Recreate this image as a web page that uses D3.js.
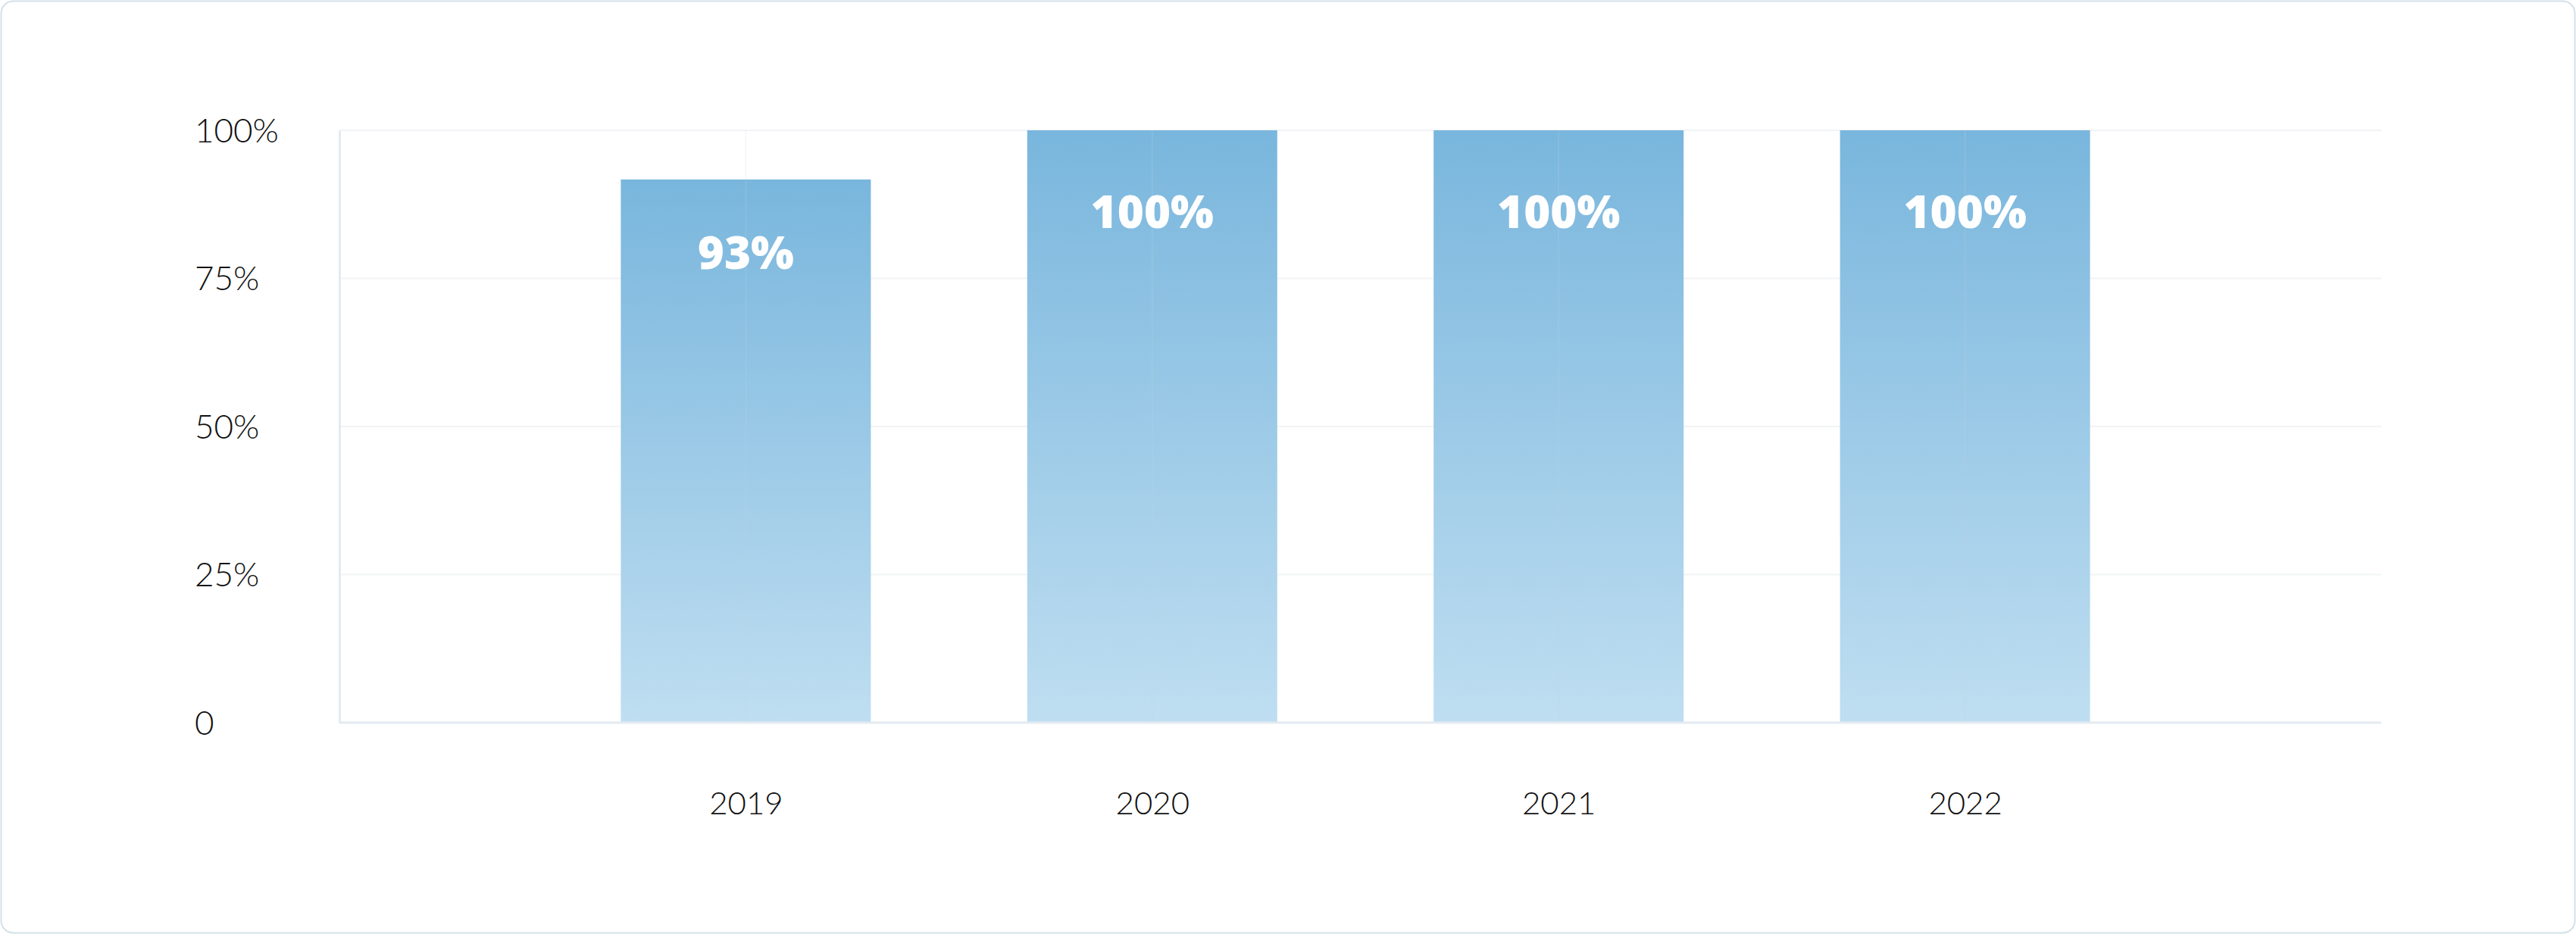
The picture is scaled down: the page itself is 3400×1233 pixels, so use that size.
<!DOCTYPE html>
<html>
<head>
<meta charset="utf-8">
<script src="https://cdn.jsdelivr.net/npm/d3@7"></script>
<style>
  html, body { margin: 0; padding: 0; background: #ffffff; }
  svg { display: block; }
</style>
</head>
<body>
<script>
// ---- data ----
const categories = ["2019", "2020", "2021", "2022"];
const barValues = [91.7, 100, 100, 100];      // bar heights as drawn (%)
const labelValues = [93, 100, 100, 100];      // value labels shown on bars (%)
const yTicks = [0, 25, 50, 75, 100];
const yTickLabels = ["0", "25%", "50%", "75%", "100%"];

// ---- layout ----
const W = 3400, H = 1233;
const plot = { left: 448, right: 3143, top: 172, bottom: 954 };
const barWidth = 330;

const svg = d3.select("body").append("svg").attr("width", W).attr("height", H);

// card
svg.append("rect")
  .attr("x", 1.5).attr("y", 1.5)
  .attr("width", W - 3).attr("height", H - 3)
  .attr("rx", 16).attr("ry", 16)
  .attr("fill", "#ffffff")
  .attr("stroke", "#d3e2e8").attr("stroke-width", 2);

const defs = svg.append("defs");
const grad = defs.append("linearGradient")
  .attr("id", "barGrad").attr("x1", 0).attr("y1", 0).attr("x2", 0).attr("y2", 1);
grad.append("stop").attr("offset", "0%").attr("stop-color", "#79b6dd");
grad.append("stop").attr("offset", "100%").attr("stop-color", "#bfdef1");

const x = d3.scalePoint().domain(categories).range([plot.left, 3130]).padding(1);
const y = d3.scaleLinear().domain([0, 100]).range([plot.bottom, plot.top]);

// horizontal grid
svg.append("g")
  .selectAll("line").data(yTicks.filter(d => d > 0)).join("line")
  .attr("x1", plot.left).attr("x2", plot.right)
  .attr("y1", d => y(d)).attr("y2", d => y(d))
  .attr("stroke", "#f1f3f5").attr("stroke-width", 2);

// bars
svg.append("g")
  .selectAll("rect").data(categories).join("rect")
  .attr("x", (d) => x(d) - barWidth / 2)
  .attr("y", (d, i) => y(barValues[i]))
  .attr("width", barWidth)
  .attr("height", (d, i) => y(0) - y(barValues[i]))
  .attr("fill", "url(#barGrad)");

// vertical grid at categories (drawn over bars, very faint)
svg.append("g")
  .selectAll("line").data(categories).join("line")
  .attr("x1", d => x(d)).attr("x2", d => x(d))
  .attr("y1", plot.top).attr("y2", plot.bottom)
  .attr("stroke", "rgba(200,210,220,0.18)").attr("stroke-width", 2);

// y axis
const yAxis = svg.append("g")
  .attr("transform", `translate(${plot.left},0)`)
  .call(d3.axisLeft(y).tickValues(yTicks).tickFormat((d, i) => yTickLabels[i]).tickSize(0));
yAxis.select(".domain").attr("stroke", "#e3eaf1").attr("stroke-width", 3);
yAxis.selectAll("text")
  .attr("x", 257 - plot.left)
  .attr("dy", "0.35em")
  .attr("text-anchor", "start")
  .attr("fill", "#111111")
  .style("font-family", "Lato, 'Open Sans', sans-serif")
  .style("font-weight", 300)
  .style("font-size", "44px");

// x axis
const xAxis = svg.append("g")
  .attr("transform", `translate(0,${plot.bottom})`)
  .call(d3.axisBottom(x).tickSize(0));
xAxis.select(".domain").attr("d", `M${plot.left},0H${plot.right}`)
  .attr("stroke", "#e3eaf1").attr("stroke-width", 3);
xAxis.selectAll("text")
  .attr("y", 121).attr("dy", 0)
  .attr("fill", "#111111")
  .style("font-family", "Lato, 'Open Sans', sans-serif")
  .style("font-weight", 300)
  .style("font-size", "42px");

// value labels
svg.append("g")
  .selectAll("text").data(categories).join("text")
  .attr("x", d => x(d))
  .attr("y", (d, i) => y(labelValues[i]) + 107)
  .attr("dy", "0.36em")
  .attr("text-anchor", "middle")
  .attr("fill", "#ffffff")
  .style("font-family", "'Open Sans', Lato, sans-serif")
  .style("font-weight", 800)
  .style("font-size", "60px")
  .text((d, i) => labelValues[i] + "%");
</script>
</body>
</html>
